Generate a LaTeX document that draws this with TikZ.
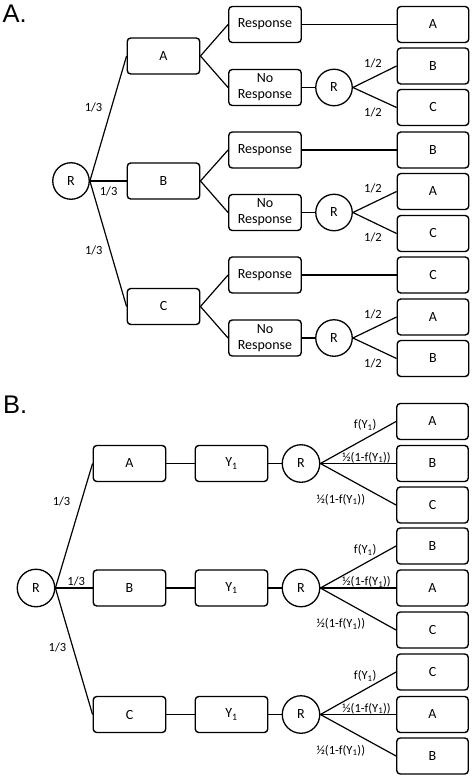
\documentclass[tikz,border=0pt]{standalone}
\usepackage{fontspec}
\setmainfont{Carlito}
\newfontfamily\headfont{Liberation Sans}
\begin{document}
\begin{tikzpicture}[x=1pt,y=-1pt,
  box/.style={draw, line width=1.4pt, rounded corners=3.5pt, minimum width=72.5pt, minimum height=36pt, inner sep=1pt, font=\fontsize{14}{16}\selectfont, align=center},
  fin/.style={box, minimum width=71.5pt},
  rnode/.style={draw, circle, line width=1.3pt, minimum size=36.5pt, inner sep=0pt, font=\fontsize{14}{16}\selectfont},
  conn/.style={line width=1.2pt},
  lab/.style={font=\fontsize{12.5}{14}\selectfont, inner sep=0pt},
  head/.style={anchor=base west, inner sep=0pt, font=\headfont\fontsize{25.5}{30}\selectfont}
]
\useasboundingbox (0,0) rectangle (474,779);

% ---------- Part A ----------
\node[head] (ta) at (2.5,23) {A.};
\node[rnode] (r0) at (71,181) {R};
\node[box] (a1) at (163.5,56) {A};
\node[box] (b1) at (163.5,181) {B};
\node[box] (c1) at (163.5,306.5) {C};

\node[box] (a1r) at (265,24.5) {Response};
\node[box] (a1n) at (265,87.5) {No\\Response};
\node[box] (b1r) at (265,150) {Response};
\node[box] (b1n) at (265,212.5) {No\\Response};
\node[box] (c1r) at (265,275) {Response};
\node[box] (c1n) at (265,338) {No\\Response};

\node[rnode] (aR) at (334,87.5) {R};
\node[rnode] (bR) at (334,212.5) {R};
\node[rnode] (cR) at (334,338) {R};

\node[fin] (fa1) at (433,24.5) {A};
\node[fin] (fa2) at (433,66) {B};
\node[fin] (fa3) at (433,107.5) {C};
\node[fin] (fb1) at (433,150) {B};
\node[fin] (fb2) at (433,191.5) {A};
\node[fin] (fb3) at (433,233.5) {C};
\node[fin] (fc1) at (433,275) {C};
\node[fin] (fc2) at (433,317) {A};
\node[fin] (fc3) at (433,358.5) {B};

\draw[conn] (r0.east) -- node[lab, pos=0.59, xshift=-18pt] {1/3} (a1.west);
\draw[conn] (r0.east) -- node[lab, pos=0.51, yshift=-10pt] {1/3} (b1.west);
\draw[conn] (r0.east) -- node[lab, pos=0.55, xshift=-16.3pt] {1/3} (c1.west);

\foreach \p in {a1,b1,c1}{
  \draw[conn] (\p.east) -- (\p r.west);
  \draw[conn] (\p.east) -- (\p n.west);
}
\draw[conn] (a1r.east) -- (fa1.west);
\draw[conn] (b1r.east) -- (fb1.west);
\draw[conn] (c1r.east) -- (fc1.west);
\draw[conn] (a1n.east) -- (aR.west);
\draw[conn] (b1n.east) -- (bR.west);
\draw[conn] (c1n.east) -- (cR.west);

\draw[conn] (aR.east) -- node[lab, pos=0.46, yshift=14pt] {1/2} (fa2.west);
\draw[conn] (aR.east) -- node[lab, pos=0.46, yshift=-15.5pt] {1/2} (fa3.west);
\draw[conn] (bR.east) -- node[lab, pos=0.46, yshift=14pt] {1/2} (fb2.west);
\draw[conn] (bR.east) -- node[lab, pos=0.46, yshift=-15.5pt] {1/2} (fb3.west);
\draw[conn] (cR.east) -- node[lab, pos=0.46, yshift=14pt] {1/2} (fc2.west);
\draw[conn] (cR.east) -- node[lab, pos=0.46, yshift=-15.5pt] {1/2} (fc3.west);

% ---------- Part B ----------
\node[head] (tb) at (3,413) {B.};
\node[rnode, minimum size=37.5pt] (s0) at (36,588) {R};
\node[box] (sa) at (129.5,463.5) {A};
\node[box] (sb) at (129.5,588) {B};
\node[box] (sc) at (129.5,714.5) {C};

\node[box] (ya) at (231.5,463.5) {Y\textsubscript{1}};
\node[box] (yb) at (231.5,588) {Y\textsubscript{1}};
\node[box] (yc) at (231.5,714.5) {Y\textsubscript{1}};

\node[rnode, minimum size=37.5pt] (ra) at (301,463.5) {R};
\node[rnode, minimum size=37.5pt] (rb) at (301,588) {R};
\node[rnode, minimum size=37.5pt] (rc) at (301,714.5) {R};

\node[fin] (ga1) at (432.5,421.5) {A};
\node[fin] (ga2) at (432.5,463.5) {B};
\node[fin] (ga3) at (432.5,505) {C};
\node[fin] (gb1) at (432.5,546) {B};
\node[fin] (gb2) at (432.5,588) {A};
\node[fin] (gb3) at (432.5,630) {C};
\node[fin] (gc1) at (432.5,672) {C};
\node[fin] (gc2) at (432.5,714.5) {A};
\node[fin] (gc3) at (432.5,756) {B};

\draw[conn] (s0.east) -- node[lab, pos=0.696, xshift=-19.7pt] {1/3} (sa.west);
\draw[conn] (s0.east) -- node[lab, pos=0.56, yshift=7pt] {1/3} (sb.west);
\draw[conn] (s0.east) -- node[lab, pos=0.47, xshift=-15.4pt] {1/3} (sc.west);

\foreach \p in {a,b,c}{
  \draw[conn] (s\p.east) -- (y\p.west);
  \draw[conn] (y\p.east) -- (r\p.west);
  \draw[conn] (r\p.east) -- node[lab, pos=0.592, yshift=13.6pt] {f(Y\textsubscript{1})} (g\p1.west);
  \draw[conn] (r\p.east) -- node[lab, pos=0.61, yshift=6pt] {½(1-f(Y\textsubscript{1}))} (g\p2.west);
  \draw[conn] (r\p.east) -- node[lab, pos=0.27, yshift=-24.8pt] {½(1-f(Y\textsubscript{1}))} (g\p3.west);
}
\end{tikzpicture}
\end{document}
